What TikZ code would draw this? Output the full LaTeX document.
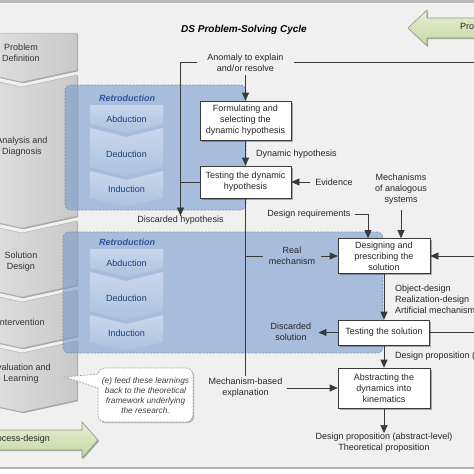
\documentclass[tikz,border=0pt]{standalone}
\usepackage{fontspec}
\setmainfont{Liberation Sans}
\usetikzlibrary{arrows.meta,shadows,calc}

\definecolor{bg}{HTML}{F0F0F0}
\definecolor{regfill}{RGB}{120,155,205}
\definecolor{regdraw}{HTML}{7F8FA8}
\definecolor{chevA}{HTML}{C8D7EC}
\definecolor{chevB}{HTML}{ADC2DF}
\definecolor{dblue}{HTML}{1F3D7A}
\definecolor{rblue}{HTML}{2E5597}
\definecolor{greenA}{HTML}{E6EED5}
\definecolor{greenB}{HTML}{C5D7A2}
\definecolor{greendraw}{HTML}{8C9A7C}
\definecolor{txt}{HTML}{262626}
\definecolor{linec}{HTML}{3A3A3A}
\definecolor{phaseA}{HTML}{E4E4E4}
\definecolor{phaseB}{HTML}{C9C9C9}

\begin{document}
\begin{tikzpicture}[x=1pt,y=-1pt,
  every node/.style={font=\fontsize{9}{11}\selectfont, text=txt},
  proc/.style={draw=linec, fill=white, line width=0.6pt, align=center, inner sep=1pt,
    drop shadow={shadow xshift=1.5pt, shadow yshift=-1.5pt, fill=black, opacity=0.3}},
  lbl/.style={align=center, inner sep=0pt},
  conn/.style={draw=linec, line width=0.6pt},
  arr/.style={conn, -{Triangle[width=7pt,length=8pt]}},
  phase/.style={left color=phaseA, right color=phaseB, draw=gray!60, line width=0.5pt,
    drop shadow={shadow xshift=1.2pt, shadow yshift=-1.2pt, fill=black, opacity=0.3}},
  phasetext/.style={lbl, text=black!80},
  region/.style={fill=regfill, fill opacity=0.6, draw=regdraw, dash pattern=on 2pt off 1.5pt, line width=0.7pt, rounded corners=6pt},
  rchev/.style={top color=chevA, bottom color=chevB, draw=none},
  rchevtext/.style={lbl, text=dblue},
  retro/.style={lbl, text=rblue, font=\fontsize{9}{11}\selectfont\bfseries\itshape},
  greenarrow/.style={top color=greenA, bottom color=greenB, draw=greendraw, line width=0.6pt,
    drop shadow={shadow xshift=1.2pt, shadow yshift=-1.2pt, fill=black, opacity=0.3}},
  bubble/.style={draw=gray!70, dash pattern=on 2pt off 1.2pt, line width=0.8pt, fill=white}
]
\useasboundingbox (0,0) rectangle (474,474);
\clip (0,0) rectangle (474,474);

% background
\fill[white] (0,0) rectangle (474,474);
\fill[bg] (0,3) rectangle (474,467);
\fill[gray!55] (0,0) rectangle (474,3);
\fill[gray!60] (0,466.5) rectangle (474,468.5);

% left phase chevrons
\path[phase] (-33,33) -- (77,33) -- (77,70) -- (22,82) -- (-33,70) -- cycle;
\path[phase] (-33,75) -- (22,87) -- (77,75) -- (77,216) -- (22,228) -- (-33,216) -- cycle;
\path[phase] (-33,221) -- (22,233) -- (77,221) -- (77,285) -- (22,297) -- (-33,285) -- cycle;
\path[phase] (-33,290) -- (22,302) -- (77,290) -- (77,336) -- (22,348) -- (-33,336) -- cycle;
\path[phase] (-33,341) -- (22,353) -- (77,341) -- (77,400) -- (22,412) -- (-33,400) -- cycle;
\node[phasetext] (ph1) at (21,53) {Problem\\Definition};
\node[phasetext] (ph2) at (22,146.5) {Analysis and\\Diagnosis};
\node[phasetext] (ph3) at (21,261.5) {Solution\\Design};
\node[phasetext] (ph4) at (21,322) {Intervention};
\node[phasetext] (ph5) at (21,373.5) {Evaluation and\\Learning};

% green arrows
\path[greenarrow] (-10,430) -- (82,430) -- (82,422) -- (98,440) -- (82,458) -- (82,450) -- (-10,450) -- cycle;
\node[lbl, anchor=east] (procdes) at (50,439.5) {Process-design};
\path[greenarrow] (408,28) -- (427,10) -- (427,18) -- (480,18) -- (480,38) -- (427,38) -- (427,46) -- cycle;
\node[lbl, anchor=west] (proddes) at (460,27.5) {Product-design};

% callout
\path[bubble, rounded corners=7pt, drop shadow={shadow xshift=1.2pt, shadow yshift=-1.2pt, fill=black, opacity=0.25}] (98,368) rectangle (193,422);
\fill[white] (99.2,373.5) -- (65,377) -- (99.2,388.5) -- cycle;
\draw[draw=gray!70, dash pattern=on 2pt off 1.2pt, line width=0.8pt] (98,374) -- (65,377) -- (98,388);
\node[lbl, font=\fontsize{8.3}{10}\selectfont\itshape, text=black!75] (callout) at (145.5,396)
  {(e) feed these learnings\\back to the theoretical\\framework underlying\\the research.};

% retroduction regions
\path[region] (65,85) rectangle (246,210);
\path[region] (63,232) rectangle (383,353);
\foreach \dy/\s in {0/1,144/2}{
  \begin{scope}[shift={(0,\dy)}]
    \path[rchev] (90,105) -- (163,105) -- (163,124) -- (126.5,133) -- (90,124) -- cycle;
    \path[rchev] (90,128) -- (126.5,137) -- (163,128) -- (163,167) -- (126.5,176) -- (90,167) -- cycle;
    \path[rchev] (90,171) -- (126.5,180) -- (163,171) -- (163,198) -- (126.5,207) -- (90,198) -- cycle;
    \node[retro] (retro\s) at (127,98) {Retroduction};
    \node[rchevtext] (abd\s) at (126.5,119) {Abduction};
    \node[rchevtext] (ded\s) at (126.5,154) {Deduction};
    \node[rchevtext] (ind\s) at (126.5,189) {Induction};
  \end{scope}
}

% title
\node[font=\fontsize{10}{12}\selectfont\bfseries\itshape, text=black] (title) at (244,30) {DS Problem-Solving Cycle};

% process boxes
\node[proc, minimum width=91pt, minimum height=39pt] (form) at (245.5,120.5) {Formulating and\\selecting the\\dynamic hypothesis};
\node[proc, minimum width=91pt, minimum height=32pt] (testdyn) at (245.5,182) {Testing the dynamic\\hypothesis};
\node[proc, minimum width=92pt, minimum height=35pt] (design) at (384,256) {Designing and\\prescribing the\\solution};
\node[proc, minimum width=91pt, minimum height=25pt] (testsol) at (384,332.5) {Testing the solution};
\node[proc, minimum width=92pt, minimum height=40pt] (abstr) at (384,388) {Abstracting the\\dynamics into\\kinematics};

% labels
\node[lbl, inner xsep=10pt, inner ysep=3pt] (anomaly) at (245.5,62.5) {Anomaly to explain\\and/or resolve};
\node[lbl] (disc) at (180.5,220) {Discarded hypothesis};
\node[lbl, anchor=west] (dynhyp) at (256,154) {Dynamic hypothesis};
\node[lbl, inner xsep=5pt] (evid) at (334,182) {Evidence};
\node[lbl, inner xsep=5pt, inner ysep=2pt] (mechexpl) at (245.5,388) {Mechanism-based\\explanation};
\node[lbl, inner xsep=5.5pt] (realmech) at (292,256) {Real\\mechanism};
\node[lbl, inner xsep=4.5pt] (desreq) at (309,214) {Design requirements};
\node[lbl, inner ysep=6pt] (mechana) at (401,189) {Mechanisms\\of analogous\\systems};
\node[lbl, anchor=west, align=left] (objdes) at (395,299) {Object-design\\Realization-design\\Artificial mechanism};
\node[lbl, inner xsep=7pt] (discsol) at (291,332) {Discarded\\solution};
\node[lbl, anchor=west] (dpobj) at (395,356) {Design proposition (object-level)};
\node[lbl] (dpabs) at (384,443) {Design proposition (abstract-level)\\Theoretical proposition};

\coordinate (topright) at (480,62.5);
\coordinate (rmsplit) at (245.5,256);
\coordinate (rin) at (480,256);
\coordinate (rout) at (480,332.5);

% connectors
\draw[conn] (topright) -- (anomaly.east);
\draw[conn] (anomaly.west) -| (disc.north);
\draw[arr] (testdyn.west) -| (disc.north);
\draw[arr] (anomaly.south) -- (form.north);
\draw[arr] (form.south) -- (testdyn.north);
\draw[arr] (evid.west) -- (testdyn.east);
\draw[conn] (testdyn.south) -- (mechexpl.north);
\draw[conn] (rmsplit) -- (realmech.west);
\draw[arr] (realmech.east) -- (realmech.east -| design.west);
\draw[arr] (mechexpl.east) -- (mechexpl.east -| abstr.west);
\draw[arr] (desreq.east) -| ([xshift=-16pt]design.north);
\draw[arr] (mechana.south) -- (mechana.south |- design.north);
\draw[arr] (rin) -- (design.east);
\draw[arr] (design.south) -- (testsol.north);
\draw[arr] (testsol.west) -- (testsol.west -| discsol.east);
\draw[conn] (testsol.east) -- (rout);
\draw[arr] (testsol.south) -- (abstr.north);
\draw[arr] (abstr.south) -- (dpabs.north);
\end{tikzpicture}
\end{document}
